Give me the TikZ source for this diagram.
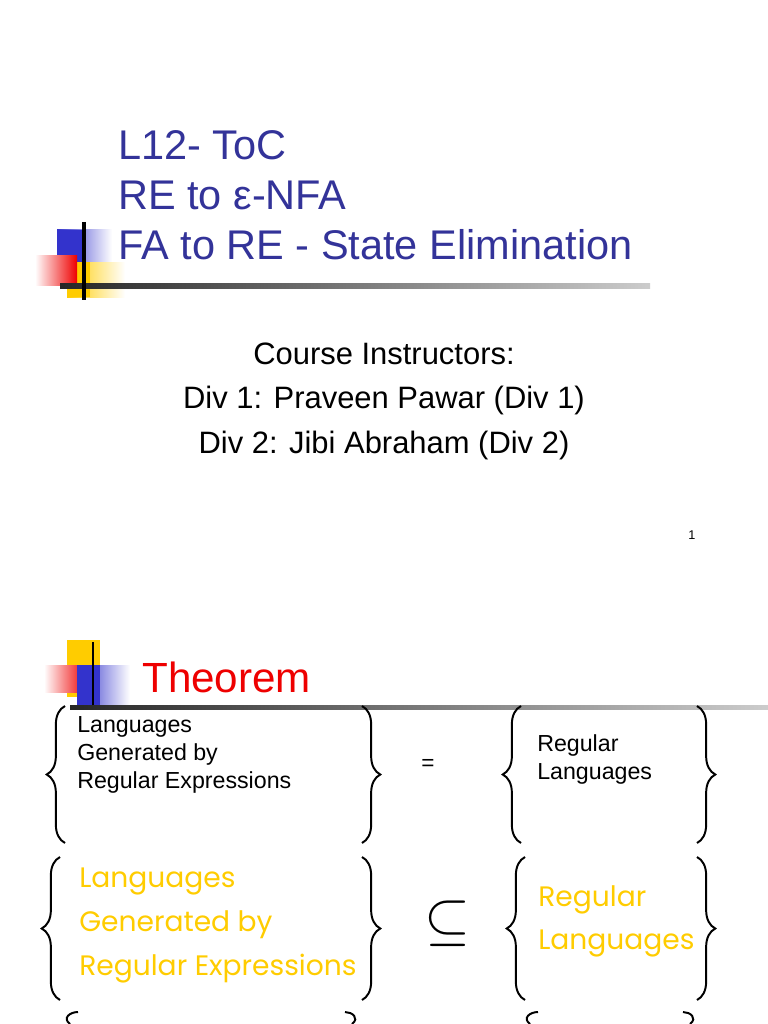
\documentclass[tikz,border=0pt]{standalone}
\usepackage{fontspec}
\setmainfont{Liberation Sans}
\newfontfamily\comic{Poppins}
\usetikzlibrary{decorations.pathreplacing}
\definecolor{navy}{RGB}{51,51,153}
\definecolor{myyellow}{RGB}{255,204,0}
\definecolor{myblue}{RGB}{51,51,204}
\definecolor{myred}{RGB}{238,0,0}
\tikzset{x=0.025cm,y=-0.025cm,
 title/.style={anchor=west,text=navy,font=\fontsize{29.5}{30}\selectfont,inner sep=0},
 instr/.style={font=\fontsize{22}{22}\selectfont,inner sep=0},
 small/.style={anchor=north west,align=left,font=\fontsize{16.5}{20}\selectfont,inner sep=0},
 yel/.style={anchor=north west,align=left,text=myyellow,font=\comic\fontsize{20}{31}\selectfont,inner sep=0},
 brL/.style={decorate,decoration={brace,amplitude=13pt,mirror},line width=1.4pt},
 brR/.style={decorate,decoration={brace,amplitude=13pt},line width=1.4pt}}
\begin{document}
\begin{tikzpicture}
\useasboundingbox (0,0) rectangle (768,1024);
\fill[white] (0,0) rectangle (768,1024);
% logo 1
\shade[left color=myblue,right color=white] (57,230) rectangle (112,262);
\fill[myblue] (57,230) rectangle (84,262);
\shade[left color=myyellow,right color=white] (67,262) rectangle (125,297);
\fill[myyellow] (67,262) rectangle (90,297);
\shade[left color=white,right color=myred] (35,256) rectangle (77,285);
\shade[left color=black!85,right color=black!20] (60,283) rectangle (650,288);
\draw[line width=2.5pt] (84,222) -- (84,300);
\node[title] (t1) at (118,145) {L12- ToC};
\node[title] (t2) at (118,195) {RE to ε-NFA};
\node[title] (t3) at (118,245) {FA to RE - State Elimination};
\node[instr] (i1) at (384,354) {Course Instructors:};
\node[instr] (i2) at (384,400) {Div 1: Praveen Pawar (Div 1)};
\node[instr] (i3) at (384,445) {Div 2: Jibi Abraham (Div 2)};
\node[font=\fontsize{9}{10}\selectfont] (pn) at (692,535) {1};
% logo 2
\fill[myyellow] (67,640) rectangle (100,697);
\shade[left color=white,right color=myred] (44,665) rectangle (87,692);
\shade[left color=myblue,right color=white] (77,665) rectangle (130,705);
\fill[myblue] (77,665) rectangle (100,705);
\shade[left color=black!85,right color=black!20] (70,705) rectangle (768,709);
\draw[line width=1.5pt] (93,642) -- (93,705);
\node[anchor=west,text=myred,font=\fontsize{30}{30}\selectfont,inner sep=0] (th) at (142,677) {Theorem};
% row 1
\draw[brL] (65,706) -- (65,843);
\draw[brR] (362,706) -- (362,843);
\node[small] (l1) at (77,716) {Languages\\Generated by\\Regular Expressions};
\node[font=\fontsize{16}{16}\selectfont] (eq) at (428,765) {=};
\draw[brL] (521,706) -- (521,843);
\draw[brR] (697,706) -- (697,843);
\node[small] (r1) at (537,734) {Regular\\Languages};
% row 2
\draw[brL] (60,857) -- (60,1000);
\draw[brR] (362,857) -- (362,1000);
\node[yel] (l2) at (79,868) {Languages\\Generated by\\Regular Expressions};
\node[scale=4.2,inner sep=0] (sub) at (447,924) {$\subseteq$};
\draw[brL] (525,857) -- (525,1000);
\draw[brR] (697,857) -- (697,1000);
\node[yel] (r2) at (538,885) {Regular\\Languages};
% row 3 (cut)
\draw[line width=1.4pt] (70,1024) .. controls (62,1018) and (70,1012) .. (78,1012);
\draw[line width=1.4pt] (352,1024) .. controls (360,1018) and (352,1012) .. (345,1012);
\draw[line width=1.4pt] (530,1024) .. controls (522,1018) and (530,1012) .. (538,1012);
\draw[line width=1.4pt] (690,1024) .. controls (698,1018) and (690,1012) .. (683,1012);
\end{tikzpicture}
\end{document}
